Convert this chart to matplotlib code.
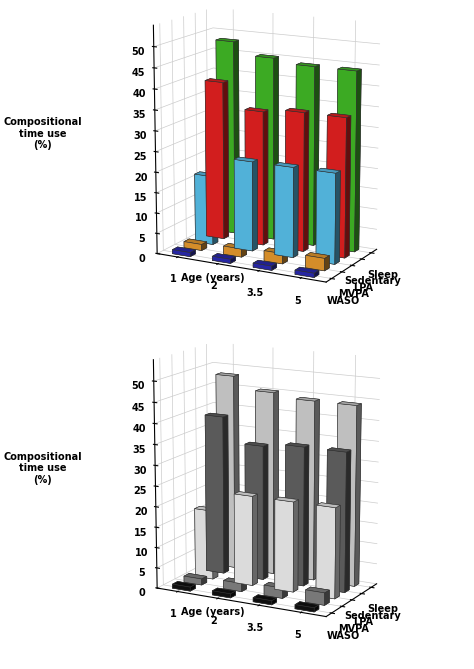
import matplotlib
matplotlib.use("Agg")
import matplotlib.pyplot as plt
import numpy as np

ages = ["1", "2", "3.5", "5"]
cats = ["WASO", "MVPA", "LPA", "Sedentary", "Sleep"]
waso = [1.0, 1.0, 1.0, 1.0]
mvpa = [1.5, 2.0, 2.5, 3.0]
lpa = [17.0, 22.0, 22.0, 22.0]
sedentary = [39.0, 33.0, 34.0, 34.0]
sleep = [48.0, 45.0, 44.0, 44.0]
values = [waso, mvpa, lpa, sedentary, sleep]

colors_top = ["#2b2bb8", "#f0a030", "#5cc8f5", "#ee2222", "#44c028"]
colors_bot = ["#111111", "#888888", "#f8f8f8", "#666666", "#d8d8d8"]

fig = plt.figure(figsize=(4.74, 6.69), dpi=100)

def panel(rect, cols):
    ax = fig.add_axes(rect, projection="3d")
    for ci in range(len(cats))[::-1]:
        for ai in range(len(ages)):
            ax.bar3d(ai, ci, 0, 0.45, 0.45, values[ci][ai], color=cols[ci],
                     edgecolor="#333333", linewidth=0.4, shade=True)
    ax.set_xticks(np.arange(len(ages)) + 0.22)
    ax.set_xticklabels(ages, fontsize=7, fontweight="bold")
    ax.set_yticks(np.arange(len(cats)) + 0.22)
    ax.set_yticklabels(cats, fontsize=7, fontweight="bold")
    ax.set_zticks(range(0, 51, 5))
    ax.set_zticklabels([str(v) for v in range(0, 51, 5)], fontsize=7, fontweight="bold")
    ax.set_zlim(0, 55)
    ax.set_xlim(-0.3, 3.8)
    ax.set_ylim(-0.3, 4.8)
    ax.zaxis._axinfo["juggled"] = (1, 2, 0)
    for a in (ax.xaxis, ax.yaxis, ax.zaxis):
        a.set_pane_color((1, 1, 1, 1))
        a._axinfo["grid"]["color"] = "#cccccc"
        a._axinfo["grid"]["linewidth"] = 0.5
    ax.tick_params(pad=0)
    ax.view_init(elev=14, azim=-62)
    ax.set_box_aspect((1.3, 0.8, 1.6))
    return ax

panel([0.13, 0.55, 0.85, 0.47], colors_top)
panel([0.13, 0.05, 0.85, 0.47], colors_bot)
for y in (0.80, 0.30):
    fig.text(0.09, y, "Compositional\ntime use\n(%)", ha="center", va="center",
             fontsize=7, fontweight="bold")
for y in (0.585, 0.085):
    fig.text(0.45, y, "Age (years)", ha="center", va="center",
             fontsize=7, fontweight="bold")
fig.savefig("out.png", dpi=100, facecolor="white")
